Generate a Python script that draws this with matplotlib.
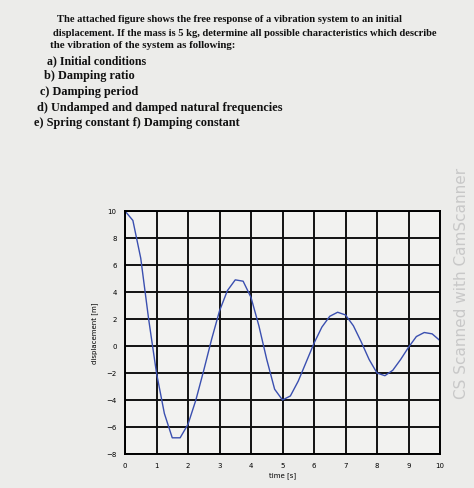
import matplotlib.pyplot as plt
import numpy as np

t = [0, .25, .5, .75, 1.0, 1.25, 1.5, 1.75, 2.0, 2.25, 2.5, 2.75, 3.0, 3.25, 3.5, 3.75,
     4.0, 4.25, 4.5, 4.75, 5.0, 5.25, 5.5, 5.75, 6.0, 6.25, 6.5, 6.75, 7.0, 7.25, 7.5,
     7.75, 8.0, 8.25, 8.5, 8.75, 9.0, 9.25, 9.5, 9.75, 10]
x = [10, 9.3, 6.5, 2, -2, -5, -6.8, -6.8, -5.8, -4, -1.8, 0.5, 2.6, 4.1, 4.9, 4.8,
     3.6, 1.5, -1, -3.2, -4, -3.7, -2.6, -1.2, 0.2, 1.4, 2.2, 2.5, 2.3, 1.5, 0.3,
     -1, -2, -2.2, -1.8, -1, -0.1, 0.7, 1, 0.9, 0.4]
xticks = list(range(0, 11))
yticks = list(range(-8, 11, 2))

lines = ["The attached figure shows the free response of a vibration system to an initial",
         "displacement. If the mass is 5 kg, determine all possible characteristics which describe",
         "the vibration of the system as following:",
         "a) Initial conditions", "b) Damping ratio", "c) Damping period",
         "d) Undamped and damped natural frequencies",
         "e) Spring constant f) Damping constant"]

fig = plt.figure(figsize=(4.74, 4.89), dpi=100)
fig.patch.set_facecolor('#ececea')
ys = [20, 33, 46, 61, 76, 92, 108, 123]
xs = [57, 53, 50, 47, 44, 40, 37, 34]
sizes = [7.6, 7.6, 7.8, 8.6, 8.8, 8.8, 8.8, 8.8]
for s, yy, xx, fs in zip(lines, ys, xs, sizes):
    fig.text(xx / 474, 1 - yy / 489, s, fontsize=fs, fontweight='bold',
             family='Liberation Serif', va='center', ha='left', color='#111111')

ax = fig.add_axes([125 / 474, 1 - 455 / 489, 315 / 474, 243 / 489])
ax.set_facecolor('#f2f2f0')
ax.plot(t, x, color='#3a4fb0', lw=1.0)
ax.set_xlim(0, 10)
ax.set_ylim(-8, 10)
ax.set_xticks(xticks)
ax.set_yticks(yticks)
ax.grid(True, color='#111111', lw=1.4)
for sp in ax.spines.values():
    sp.set_linewidth(1.4)
ax.tick_params(labelsize=5, length=0, pad=6)
ax.set_xlabel('time [s]', fontsize=5, labelpad=2)
ax.set_ylabel('displacement [m]', fontsize=5, labelpad=6)
fig.text(462 / 474, 0.42, 'CS Scanned with CamScanner', rotation=90, fontsize=11,
         color='#c8c8c8', ha='center', va='center')
fig.savefig('out.png', dpi=100, facecolor=fig.get_facecolor())
